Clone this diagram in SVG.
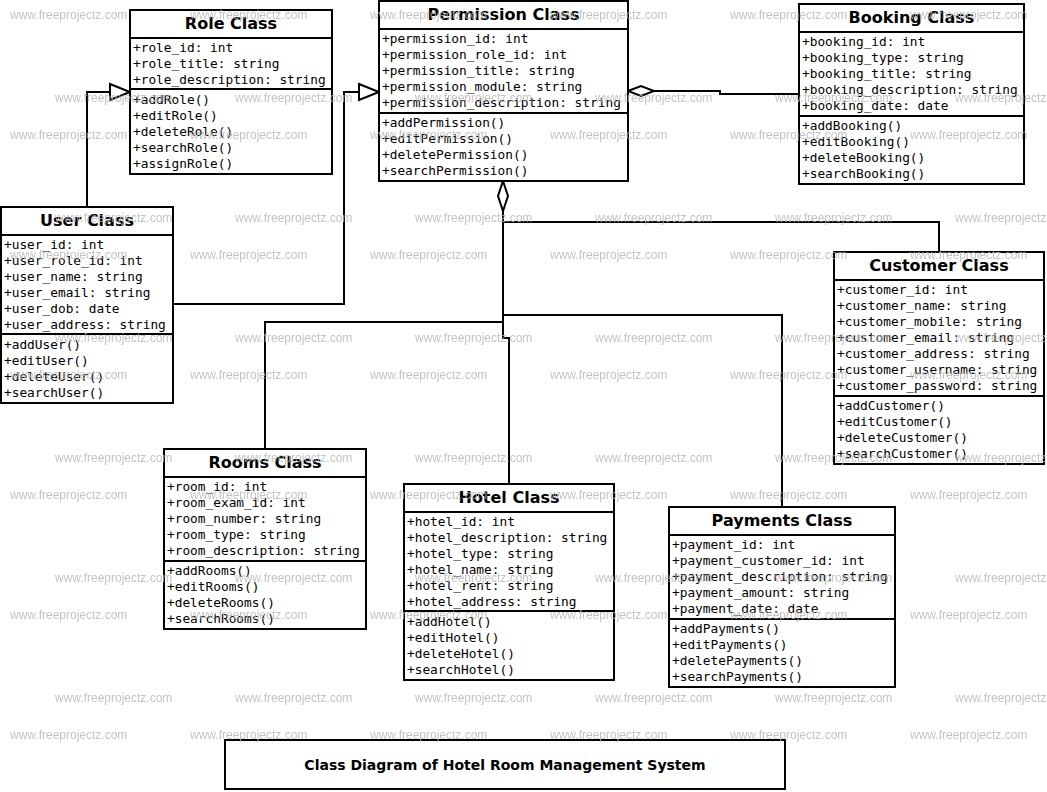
<svg xmlns="http://www.w3.org/2000/svg" width="1047" height="792" viewBox="0 0 1047 792">
<style>
.box{fill:#fff;stroke:#000;stroke-width:2}
.div{stroke:#000;stroke-width:2}
.hd{font-family:"DejaVu Sans",sans-serif;font-weight:bold;font-size:16px;fill:#000;text-anchor:middle}
.m{font-family:"DejaVu Sans Mono",monospace;font-size:12.8px;fill:#000}
.ln{fill:none;stroke:#000;stroke-width:2}
.tri{fill:#fff;stroke:#000;stroke-width:2}
.wm{font-family:"Liberation Sans",Arial,sans-serif;font-size:12px;fill:#b4b4b4}
.ttl{font-family:"DejaVu Sans",sans-serif;font-weight:bold;font-size:14px;fill:#000;text-anchor:middle}
</style>
<defs>
<pattern id="wmp" x="0" y="0" width="180" height="120" patternUnits="userSpaceOnUse">
<text class="wm" x="10" y="19">www.freeprojectz.com</text>
<text class="wm" x="55" y="102">www.freeprojectz.com</text>
<text class="wm" x="-125" y="102">www.freeprojectz.com</text>
</pattern>
</defs>
<rect width="1047" height="792" fill="#fff"/>

<g id="connectors">
<polyline class="ln" points="87,207 87,92 110,92"/>
<polygon class="tri" points="110,84 130,92 110,100"/>
<polyline class="ln" points="173,304 344,304 344,92 359,92"/>
<polygon class="tri" points="359,84 379,92 359,100"/>
<polyline class="ln" points="654,91 720,91 720,94 799,94"/>
<polygon class="tri" points="628,91 641,86 654,91 641,96"/>
<polygon class="tri" points="503,181 508,196 503,211 498,196"/>
<polyline class="ln" points="503,211 503,338 509,338 509,484"/>
<polyline class="ln" points="503,222 939,222 939,252"/>
<polyline class="ln" points="503,315 782,315 782,507"/>
<polyline class="ln" points="503,322 265,322 265,449"/>
</g>

<g id="role">
<rect class="box" x="130" y="10" width="202" height="164"/>
<line class="div" x1="130" y1="38" x2="332" y2="38"/>
<line class="div" x1="130" y1="89" x2="332" y2="89"/>
<text class="hd" x="231" y="29">Role Class</text>
<text class="m" x="133" y="52">+role_id: int</text>
<text class="m" x="133" y="68">+role_title: string</text>
<text class="m" x="133" y="84">+role_description: string</text>
<text class="m" x="133" y="104">+addRole()</text>
<text class="m" x="133" y="120">+editRole()</text>
<text class="m" x="133" y="136">+deleteRole()</text>
<text class="m" x="133" y="152">+searchRole()</text>
<text class="m" x="133" y="168">+assignRole()</text>
</g>

<g id="permission">
<rect class="box" x="379" y="1" width="249" height="180"/>
<line class="div" x1="379" y1="29" x2="628" y2="29"/>
<line class="div" x1="379" y1="113" x2="628" y2="113"/>
<text class="hd" x="503.5" y="20">Permission Class</text>
<text class="m" x="382" y="43">+permission_id: int</text>
<text class="m" x="382" y="59">+permission_role_id: int</text>
<text class="m" x="382" y="75">+permission_title: string</text>
<text class="m" x="382" y="91">+permission_module: string</text>
<text class="m" x="382" y="107">+permission_description: string</text>
<text class="m" x="382" y="127">+addPermission()</text>
<text class="m" x="382" y="143">+editPermission()</text>
<text class="m" x="382" y="159">+deletePermission()</text>
<text class="m" x="382" y="175">+searchPermission()</text>
</g>

<g id="booking">
<rect class="box" x="799" y="4" width="225" height="180"/>
<line class="div" x1="799" y1="32" x2="1024" y2="32"/>
<line class="div" x1="799" y1="116" x2="1024" y2="116"/>
<text class="hd" x="911.5" y="23">Booking Class</text>
<text class="m" x="802" y="46">+booking_id: int</text>
<text class="m" x="802" y="62">+booking_type: string</text>
<text class="m" x="802" y="78">+booking_title: string</text>
<text class="m" x="802" y="94">+booking_description: string</text>
<text class="m" x="802" y="110">+booking_date: date</text>
<text class="m" x="802" y="130">+addBooking()</text>
<text class="m" x="802" y="146">+editBooking()</text>
<text class="m" x="802" y="162">+deleteBooking()</text>
<text class="m" x="802" y="178">+searchBooking()</text>
</g>

<g id="user">
<rect class="box" x="1" y="207" width="172" height="196"/>
<line class="div" x1="1" y1="235" x2="173" y2="235"/>
<line class="div" x1="1" y1="334" x2="173" y2="334"/>
<text class="hd" x="87" y="226">User Class</text>
<text class="m" x="4" y="249">+user_id: int</text>
<text class="m" x="4" y="265">+user_role_id: int</text>
<text class="m" x="4" y="281">+user_name: string</text>
<text class="m" x="4" y="297">+user_email: string</text>
<text class="m" x="4" y="313">+user_dob: date</text>
<text class="m" x="4" y="329">+user_address: string</text>
<text class="m" x="4" y="349">+addUser()</text>
<text class="m" x="4" y="365">+editUser()</text>
<text class="m" x="4" y="381">+deleteUser()</text>
<text class="m" x="4" y="397">+searchUser()</text>
</g>

<g id="customer">
<rect class="box" x="834" y="252" width="210" height="212"/>
<line class="div" x1="834" y1="280" x2="1044" y2="280"/>
<line class="div" x1="834" y1="396" x2="1044" y2="396"/>
<text class="hd" x="939" y="271">Customer Class</text>
<text class="m" x="837" y="294">+customer_id: int</text>
<text class="m" x="837" y="310">+customer_name: string</text>
<text class="m" x="837" y="326">+customer_mobile: string</text>
<text class="m" x="837" y="342">+customer_email: string</text>
<text class="m" x="837" y="358">+customer_address: string</text>
<text class="m" x="837" y="374">+customer_username: string</text>
<text class="m" x="837" y="390">+customer_password: string</text>
<text class="m" x="837" y="410">+addCustomer()</text>
<text class="m" x="837" y="426">+editCustomer()</text>
<text class="m" x="837" y="442">+deleteCustomer()</text>
<text class="m" x="837" y="458">+searchCustomer()</text>
</g>

<g id="rooms">
<rect class="box" x="164" y="449" width="202" height="180"/>
<line class="div" x1="164" y1="477" x2="366" y2="477"/>
<line class="div" x1="164" y1="561" x2="366" y2="561"/>
<text class="hd" x="265" y="468">Rooms Class</text>
<text class="m" x="167" y="491">+room_id: int</text>
<text class="m" x="167" y="507">+room_exam_id: int</text>
<text class="m" x="167" y="523">+room_number: string</text>
<text class="m" x="167" y="539">+room_type: string</text>
<text class="m" x="167" y="555">+room_description: string</text>
<text class="m" x="167" y="575">+addRooms()</text>
<text class="m" x="167" y="591">+editRooms()</text>
<text class="m" x="167" y="607">+deleteRooms()</text>
<text class="m" x="167" y="623">+searchRooms()</text>
</g>

<g id="hotel">
<rect class="box" x="404" y="484" width="210" height="196"/>
<line class="div" x1="404" y1="512" x2="614" y2="512"/>
<line class="div" x1="404" y1="611" x2="614" y2="611"/>
<text class="hd" x="509" y="503">Hotel Class</text>
<text class="m" x="407" y="526">+hotel_id: int</text>
<text class="m" x="407" y="542">+hotel_description: string</text>
<text class="m" x="407" y="558">+hotel_type: string</text>
<text class="m" x="407" y="574">+hotel_name: string</text>
<text class="m" x="407" y="590">+hotel_rent: string</text>
<text class="m" x="407" y="606">+hotel_address: string</text>
<text class="m" x="407" y="626">+addHotel()</text>
<text class="m" x="407" y="642">+editHotel()</text>
<text class="m" x="407" y="658">+deleteHotel()</text>
<text class="m" x="407" y="674">+searchHotel()</text>
</g>

<g id="payments">
<rect class="box" x="669" y="507" width="226" height="180"/>
<line class="div" x1="669" y1="535" x2="895" y2="535"/>
<line class="div" x1="669" y1="619" x2="895" y2="619"/>
<text class="hd" x="782" y="526">Payments Class</text>
<text class="m" x="672" y="549">+payment_id: int</text>
<text class="m" x="672" y="565">+payment_customer_id: int</text>
<text class="m" x="672" y="581">+payment_description: string</text>
<text class="m" x="672" y="597">+payment_amount: string</text>
<text class="m" x="672" y="613">+payment_date: date</text>
<text class="m" x="672" y="633">+addPayments()</text>
<text class="m" x="672" y="649">+editPayments()</text>
<text class="m" x="672" y="665">+deletePayments()</text>
<text class="m" x="672" y="681">+searchPayments()</text>
</g>

<g id="title">
<rect class="box" x="225" y="740" width="560" height="49"/>
<text class="ttl" x="505" y="770">Class Diagram of Hotel Room Management System</text>
</g>

<rect id="watermark" width="1047" height="792" fill="url(#wmp)" opacity="0.8"/>
</svg>
